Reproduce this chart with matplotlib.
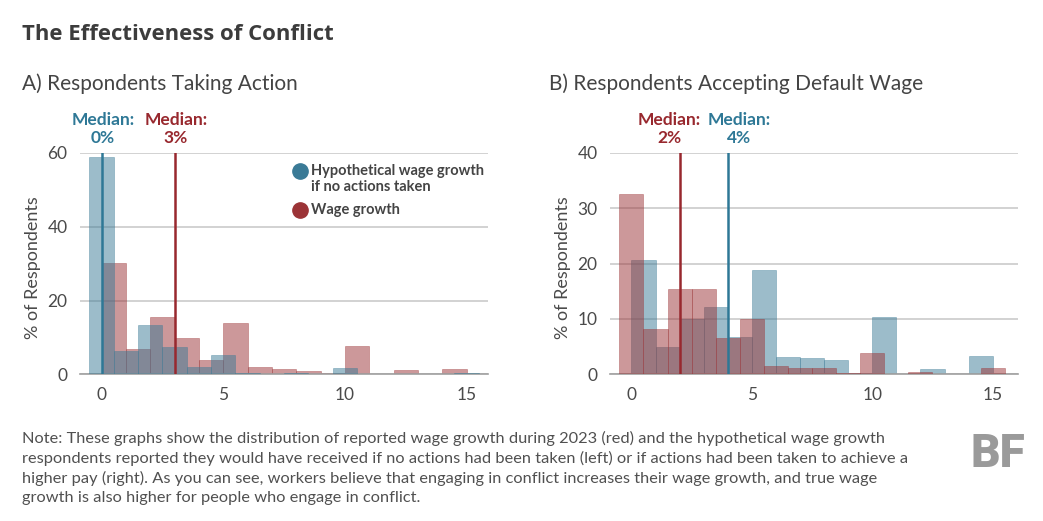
import numpy as np
import matplotlib
matplotlib.use("Agg")
import matplotlib.pyplot as plt
import matplotlib.transforms as mtransforms

plt.rcParams['font.family'] = ['Lato', 'DejaVu Sans']

# wage growth (%) bins
growth = np.arange(16)

# A) respondents taking action (% of respondents)
a_hypothetical = [59.0, 6.4, 13.4, 7.5, 2.1, 5.1, 0.4, 0.0, 0.4, 0.0, 1.6, 0.0, 0.0, 0.0, 0.0, 0.4]
a_wage = [30.1, 6.9, 15.6, 9.8, 3.9, 13.8, 2.1, 1.4, 0.9, 0.4, 7.7, 0.0, 1.1, 0.0, 1.4, 0.0]

# B) respondents accepting default wage (% of respondents)
b_hypothetical = [20.7, 5.0, 10.0, 12.2, 6.7, 18.9, 3.2, 2.9, 2.6, 0.3, 10.3, 0.0, 1.0, 0.0, 3.3, 0.0]
b_wage = [32.5, 8.2, 15.4, 15.4, 6.5, 10.0, 1.5, 1.2, 1.2, 0.3, 3.8, 0.0, 0.4, 0.0, 0.0, 1.1]

a_medians = {'hyp': 0, 'wage': 3}
b_medians = {'hyp': 4, 'wage': 2}

BLUE = '#3a7a96'
RED = '#9b3336'
BLUE_TXT = '#2e7896'
RED_TXT = '#98282e'
GRID = '#cfcfcf'
TEXT = '#444444'

fig = plt.figure(figsize=(10.43, 5.21), dpi=100)
ax1 = fig.add_axes([80 / 1043, 1 - 374.3 / 521, 408 / 1043, 221.3 / 521])
ax2 = fig.add_axes([610 / 1043, 1 - 374.3 / 521, 408 / 1043, 221.3 / 521])


def style(ax, ymax, yticks):
    ax.set_xlim(-0.89, 15.88 if ymax == 60 else 16.05)
    ax.set_ylim(0, ymax)
    ax.set_yticks(yticks)
    ax.set_xticks([0, 5, 10, 15])
    for s in ['top', 'right', 'left']:
        ax.spines[s].set_visible(False)
    ax.spines['bottom'].set_color('#a0a0a0')
    ax.spines['bottom'].set_linewidth(1.2)
    ax.tick_params(length=0, labelsize=12.5, labelcolor='#4a4a4a')
    ax.tick_params(axis='y', pad=9)
    ax.tick_params(axis='x', pad=9)
    ax.grid(axis='y', color=GRID, linewidth=1.3)
    ax.set_axisbelow(True)


def median_label(ax, x, tx, color, val):
    trans = mtransforms.blended_transform_factory(ax.transData, ax.transAxes)
    ax.axvline(x, color=color, linewidth=1.8, zorder=5)
    ax.text(tx, 1.149, 'Median:', transform=trans, ha='center', va='center',
            color=color, fontsize=12.5, fontweight='bold')
    ax.text(tx, 1.068, f'{val}%', transform=trans, ha='center', va='center',
            color=color, fontsize=12.5, fontweight='bold')


# left panel: wage growth underneath, hypothetical on top
style(ax1, 60, [0, 20, 40, 60])
ax1.bar(growth, a_wage, width=1, align='edge', color=RED, alpha=0.5,
        edgecolor=RED, linewidth=0.5, zorder=2)
ax1.bar(growth, a_hypothetical, width=1, align='center', color=BLUE, alpha=0.5,
        edgecolor=BLUE, linewidth=0.5, zorder=3)
median_label(ax1, a_medians['hyp'], a_medians['hyp'] + 0.05, BLUE_TXT, a_medians['hyp'])
median_label(ax1, a_medians['wage'], a_medians['wage'] + 0.05, RED_TXT, a_medians['wage'])

# legend
ax1.plot([0.539], [0.919], 'o', color=BLUE, markersize=11, transform=ax1.transAxes, clip_on=False)
ax1.plot([0.539], [0.742], 'o', color=RED, markersize=11, transform=ax1.transAxes, clip_on=False)
ax1.text(0.566, 0.919, 'Hypothetical wage growth', transform=ax1.transAxes, va='center',
         fontsize=10.5, fontweight='bold', color=TEXT)
ax1.text(0.566, 0.846, 'if no actions taken', transform=ax1.transAxes, va='center',
         fontsize=10.5, fontweight='bold', color=TEXT)
ax1.text(0.566, 0.742, 'Wage growth', transform=ax1.transAxes, va='center',
         fontsize=10.5, fontweight='bold', color=TEXT)

# right panel: hypothetical underneath, wage growth on top
style(ax2, 40, [0, 10, 20, 30, 40])
ax2.bar(growth, b_hypothetical, width=1, align='edge', color=BLUE, alpha=0.5,
        edgecolor=BLUE, linewidth=0.5, zorder=2)
ax2.bar(growth, b_wage, width=1, align='center', color=RED, alpha=0.5,
        edgecolor=RED, linewidth=0.5, zorder=3)
median_label(ax2, b_medians['wage'], b_medians['wage'] - 0.42, RED_TXT, b_medians['wage'])
median_label(ax2, b_medians['hyp'], b_medians['hyp'] + 0.47, BLUE_TXT, b_medians['hyp'])

# y labels
fig.text(33 / 1043, 1 - 268 / 521, '% of Respondents', rotation=90, ha='center', va='center',
         fontsize=13, color='#4a4a4a')
fig.text(563 / 1043, 1 - 268 / 521, '% of Respondents', rotation=90, ha='center', va='center',
         fontsize=13, color='#4a4a4a')

# titles
fig.text(22 / 1043, 1 - 35 / 521, 'The Effectiveness of Conflict', ha='left', va='center',
         fontsize=15.9, fontweight='bold', color='#3c3c3c', family=['Open Sans', 'DejaVu Sans'])
fig.text(22 / 1043, 1 - 84 / 521, 'A) Respondents Taking Action', ha='left', va='center',
         fontsize=15, fontweight='normal', color='#444444')
fig.text(549 / 1043, 1 - 84 / 521, 'B) Respondents Accepting Default Wage', ha='left', va='center',
         fontsize=15, fontweight='normal', color='#444444')

note = ("Note: These graphs show the distribution of reported wage growth during 2023 (red) and the hypothetical wage growth\n"
        "respondents reported they would have received if no actions had been taken (left) or if actions had been taken to achieve a\n"
        "higher pay (right). As you can see, workers believe that engaging in conflict increases their wage growth, and true wage\n"
        "growth is also higher for people who engage in conflict.")
fig.text(22 / 1043, 1 - 431 / 521, note, ha='left', va='top', fontsize=11.8,
         color='#505050', linespacing=1.42)

# logo
fig.text(998 / 1043, 1 - 454 / 521, 'BF', ha='center', va='center', fontsize=33,
         fontweight='heavy', color='#9a9a9a', family=['Roboto', 'DejaVu Sans'])

fig.savefig('out.png', dpi=100)
